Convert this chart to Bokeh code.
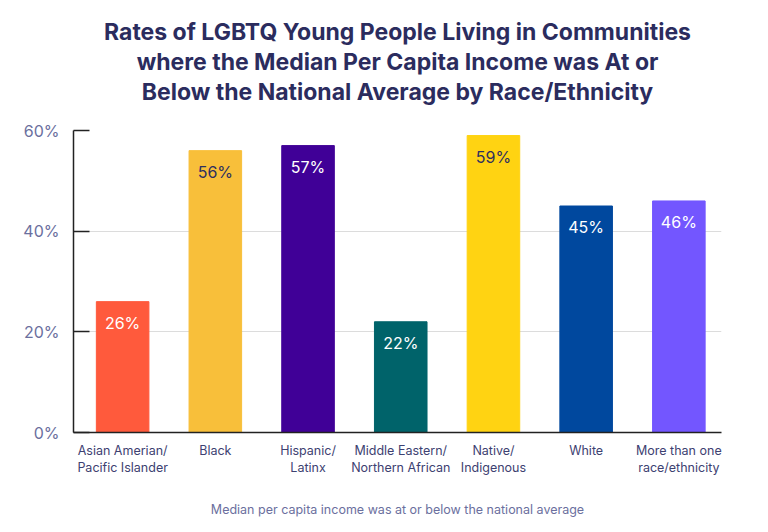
from bokeh.plotting import figure
from bokeh.models import ColumnDataSource, Range1d, FixedTicker, Title, NumeralTickFormatter
from bokeh.core.properties import value
from bokeh.embed import file_html
from bokeh.resources import INLINE

# Share of LGBTQ young people (%) in communities at/below the national median per capita income
categories = [
    "Asian Amerian/\nPacific Islander",
    "Black",
    "Hispanic/\nLatinx",
    "Middle Eastern/\nNorthern African",
    "Native/\nIndigenous",
    "White",
    "More than one\nrace/ethnicity",
]
rates = [26, 56, 57, 22, 59, 45, 46]
bar_colors = ["#ff5a3c", "#f8bf3a", "#400097", "#00636a", "#ffd312", "#00489e", "#7356ff"]
label_colors = ["#ffffff", "#2e2f5f", "#ffffff", "#ffffff", "#2e2f5f", "#ffffff", "#ffffff"]
y_ticks = [0, 20, 40, 60]

FONT = "Inter"
NAVY = "#2b2c5e"
MUTED = "#6b6f9e"

xs = list(range(len(categories)))
source = ColumnDataSource(dict(
    x=xs,
    rate=rates,
    color=bar_colors,
    label=[f"{v}%" for v in rates],
    label_color=label_colors,
))

p = figure(
    width=768, height=532,
    x_range=Range1d(-0.53, 6.46), y_range=Range1d(0, 60),
    output_backend="svg", toolbar_location=None,
    min_border_left=73, min_border_right=47,
    min_border_top=130, min_border_bottom=100,
)
p.background_fill_color = "white"
p.border_fill_color = "white"
p.outline_line_color = None

p.vbar(x="x", top="rate", width=0.567, color="color", source=source)

p.text(
    x="x", y="rate", text="label", source=source,
    text_color="label_color", text_font=value(FONT), text_font_size="16px",
    text_align="center", text_baseline="middle", y_offset=21,
)

# Blank strip between the plot frame and the title block
p.add_layout(Title(text=" ", text_font_size="21px", standoff=0), "above")

# Title, stacked outward from the plot frame
title_lines = [
    "Below the National Average by Race/Ethnicity",
    "where the Median Per Capita Income was At or",
    "Rates of LGBTQ Young People Living in Communities",
]
for line in title_lines:
    p.add_layout(Title(
        text=line, align="center", text_font=FONT, text_font_size="23px",
        text_font_style="bold", text_color=NAVY, standoff=0, offset=0,
    ), "above")

# Y axis
p.yaxis.ticker = FixedTicker(ticks=y_ticks)
p.yaxis.formatter = NumeralTickFormatter(format="0")
p.yaxis.major_label_overrides = {t: f"{t}%" for t in y_ticks}
p.yaxis.major_label_text_font = FONT
p.yaxis.major_label_text_font_size = "16px"
p.yaxis.major_label_text_color = MUTED
p.yaxis.major_label_standoff = 14
p.yaxis.axis_line_color = "#222222"
p.yaxis.axis_line_width = 1.5
p.yaxis.major_tick_line_color = "#222222"
p.yaxis.major_tick_line_width = 1.5
p.yaxis.major_tick_in = 16
p.yaxis.major_tick_out = 0
p.yaxis.minor_tick_line_color = None

# X axis with category names
p.xaxis.ticker = FixedTicker(ticks=xs)
p.xaxis.major_label_overrides = {i: c for i, c in enumerate(categories)}
p.xaxis.major_label_text_font = FONT
p.xaxis.major_label_text_font_size = "12.5px"
p.xaxis.major_label_text_line_height = 1.15
p.xaxis.major_label_text_color = "#3d4171"
p.xaxis.major_label_standoff = 4
p.xaxis.major_tick_line_color = None
p.xaxis.minor_tick_line_color = None
p.xaxis.axis_line_color = "#222222"
p.xaxis.axis_line_width = 1.5
p.xaxis.axis_label = "Median per capita income was at or below the national average"
p.xaxis.axis_label_text_font = FONT
p.xaxis.axis_label_text_font_size = "12.5px"
p.xaxis.axis_label_text_font_style = "normal"
p.xaxis.axis_label_text_color = MUTED
p.xaxis.axis_label_standoff = 24

p.xgrid.grid_line_color = None
p.ygrid.ticker = FixedTicker(ticks=y_ticks)
p.ygrid.grid_line_color = "#dcdcdc"
p.ygrid.grid_line_width = 1

open("out.html", "w").write(file_html(p, INLINE))
